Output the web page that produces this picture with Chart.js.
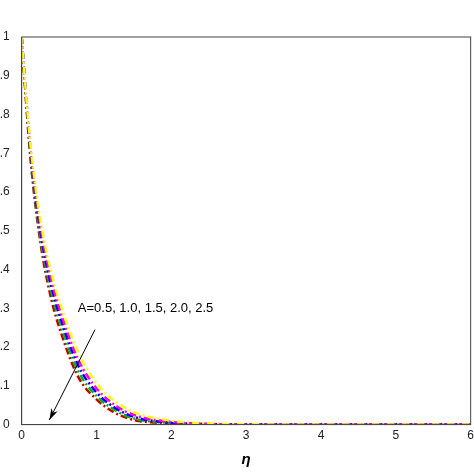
<!DOCTYPE html>
<html><head><script src="https://cdn.jsdelivr.net/npm/chart.js"></script>
<style>body{margin:0;overflow:hidden;background:#fff}#w{position:absolute;left:-11px;top:0;width:489px;height:474px}</style></head>
<body><div id="w"><canvas id="c"></canvas></div>
<script>
const xs=[0,0.06,0.12,0.25,0.4,0.52,0.75,1,1.25,1.5,2,2.5,3,4,5,6];
const yellow=[1,0.85,0.72,0.53,0.39,0.31,0.19,0.108,0.06,0.032,0.01,0.003,0.001,0,0,0];
const magenta=[1,0.845,0.71,0.515,0.37,0.29,0.17,0.094,0.05,0.025,0.007,0.002,0,0,0,0];
const blue=[1,0.84,0.70,0.50,0.355,0.275,0.155,0.083,0.043,0.02,0.005,0.001,0,0,0,0];
const green=[1,0.835,0.69,0.485,0.34,0.26,0.14,0.074,0.037,0.016,0.004,0.001,0,0,0,0];
const red=[1,0.83,0.68,0.47,0.32,0.24,0.125,0.065,0.03,0.012,0.003,0,0,0,0,0];
const series=[[yellow,'#ffff00'],[magenta,'#ff00ff'],[blue,'#0000ff'],[green,'#00bb00'],[red,'#cc0000']];
const F='"Liberation Sans", Arial, sans-serif';
const ann={id:'ann',afterDatasetsDraw(ch){const x=ch.scales.x,y=ch.scales.y,c=ch.ctx;c.save();
c.font='13px '+F;c.fillStyle='#000';c.textBaseline='middle';c.fillText('A=0.5, 1.0, 1.5, 2.0, 2.5',x.getPixelForValue(0.75),y.getPixelForValue(0.3));
const x1=x.getPixelForValue(0.98),y1=y.getPixelForValue(0.245),x2=x.getPixelForValue(0.37),y2=y.getPixelForValue(0.012);
c.strokeStyle='#000';c.lineWidth=1;c.beginPath();c.moveTo(x1,y1);c.lineTo(x2,y2);c.stroke();
const a=Math.atan2(y2-y1,x2-x1);c.beginPath();c.moveTo(x2,y2);c.lineTo(x2-12*Math.cos(a-0.3),y2-12*Math.sin(a-0.3));c.lineTo(x2-8*Math.cos(a),y2-8*Math.sin(a));c.lineTo(x2-12*Math.cos(a+0.3),y2-12*Math.sin(a+0.3));c.closePath();c.fill();
c.strokeStyle='#444';c.strokeRect(ch.chartArea.left,ch.chartArea.top,ch.chartArea.right-ch.chartArea.left,ch.chartArea.bottom-ch.chartArea.top);c.restore();}};
new Chart(document.getElementById('c'),{type:'line',
data:{datasets:series.map(([d,col])=>({data:xs.map((v,i)=>({x:v,y:d[i]})),borderColor:col,borderWidth:2.5,borderDash:[7,3,2,3],pointRadius:0,cubicInterpolationMode:'monotone'}))},
options:{animation:false,responsive:true,maintainAspectRatio:false,layout:{padding:{top:37,right:0,left:0,bottom:1}},
plugins:{legend:{display:false},tooltip:{enabled:false}},
scales:{x:{type:'linear',min:0,max:6,afterBuildTicks(s){s.ticks=[0,1,2,3,4,5,6].map(v=>({value:v}));},grid:{display:false,drawTicks:false},border:{color:'#444'},ticks:{color:'#222',font:{size:12,family:F},padding:4},
title:{display:true,text:'η',font:{size:15,weight:'bold',style:'italic',family:F},color:'#000',padding:{top:4}}},
y:{min:0,max:1,afterBuildTicks(s){s.ticks=[0,0.1,0.2,0.3,0.4,0.5,0.6,0.7,0.8,0.9,1].map(v=>({value:v}));},grid:{display:false},border:{color:'#444'},ticks:{color:'#222',font:{size:12,family:F},padding:4,callback:v=>String(Math.round(v*10)/10)}}}},
plugins:[ann]});
</script></body></html>
